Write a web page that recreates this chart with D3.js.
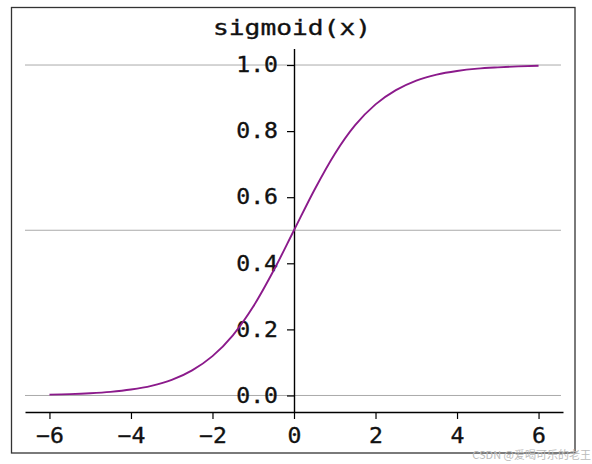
<!DOCTYPE html>
<html><head><meta charset="utf-8">
<script src="https://cdn.jsdelivr.net/npm/d3@7"></script>
<style>body{margin:0;background:#fff}svg{display:block}</style>
</head><body>
<svg id="c" width="592" height="464"></svg>
<script>
const xs = [-6,-5.5,-5,-4.5,-4,-3.5,-3,-2.5,-2,-1.5,-1,-0.5,0,0.5,1,1.5,2,2.5,3,3.5,4,4.5,5,5.5,6];
const ys = [0.0025,0.004,0.0067,0.011,0.018,0.029,0.047,0.076,0.119,0.182,0.269,0.378,0.5,0.622,0.731,0.818,0.881,0.924,0.953,0.971,0.982,0.989,0.993,0.996,0.998];
const xTicks = [-6,-4,-2,0,2,4,6];
const yTicks = [0.0,0.2,0.4,0.6,0.8,1.0];
const hLines = [0,0.5,1];
const title = "sigmoid(x)";
const watermark = "CSDN @爱喝可乐的老王";

const svg = d3.select("#c");
const x = d3.scaleLinear().domain([-6.6,6.6]).range([25,563]);
const y = d3.scaleLinear().domain([-0.05,1.05]).range([412,48.5]);
const mono = "'DejaVu Sans Mono', monospace";
const sx = 1.1;

svg.append("rect").attr("x",11.5).attr("y",7.5).attr("width",563.5).attr("height",445.5)
  .attr("fill","none").attr("stroke","#333").attr("stroke-width",1.3);

svg.append("g").selectAll("line").data(hLines).join("line")
  .attr("x1",x(-6.6)).attr("x2",x(6.55)).attr("y1",d=>y(d)).attr("y2",d=>y(d))
  .attr("stroke","#aaa").attr("stroke-width",1);

const xa = svg.append("g").attr("transform","translate(0,412)")
  .call(d3.axisBottom(x).tickValues(xTicks).tickSize(7).tickSizeOuter(0).tickPadding(9).tickFormat(d=>d3.format("d")(d).replace("-","\u2212")));
const ya = svg.append("g").attr("transform",`translate(${x(0)},0)`)
  .call(d3.axisLeft(y).tickValues(yTicks).tickSize(7).tickSizeOuter(0).tickPadding(7).tickFormat(d3.format(".1f")));
[xa,ya].forEach(a=>{
  a.select(".domain").attr("stroke","#000").attr("stroke-width",1.4);
  a.selectAll(".tick line").attr("stroke","#000").attr("stroke-width",1.2);
  a.selectAll(".tick text").attr("fill","#111").attr("stroke","#111").attr("stroke-width",0.35)
   .style("font-family",mono).style("font-size","21px")
   .attr("transform",`scale(${sx},1)`);
});
ya.selectAll(".tick text").attr("x",-16/sx);

svg.append("path").datum(xs.map((d,i)=>[d,ys[i]]))
  .attr("d",d3.line().x(d=>x(d[0])).y(d=>y(d[1])).curve(d3.curveMonotoneX))
  .attr("fill","none").attr("stroke","#8b1a8b").attr("stroke-width",1.9);

svg.append("text").attr("transform",`translate(292,35) scale(1.25,1)`).attr("text-anchor","middle")
  .style("font-family",mono).style("font-size","21px").attr("fill","#111")
  .attr("stroke","#111").attr("stroke-width",0.35).text(title);

svg.append("text").attr("x",591).attr("y",459).attr("text-anchor","end")
  .style("font-family","'Noto Sans CJK SC', sans-serif").style("font-size","11px").attr("fill","#bbb").text(watermark);
</script>
</body></html>
